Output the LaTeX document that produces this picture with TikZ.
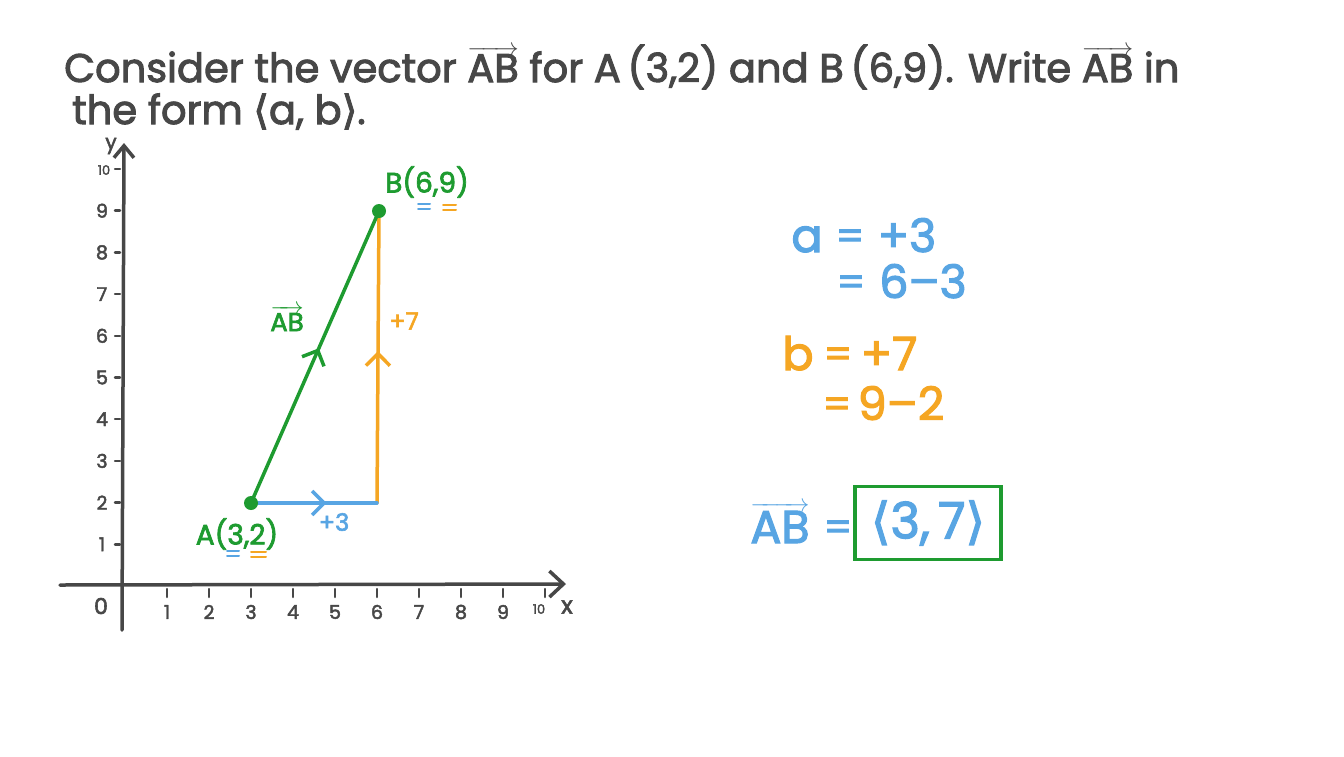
\documentclass[tikz,border=0pt]{standalone}
\usepackage{fontspec}
\setmainfont{Poppins}[FakeBold=2.5]
\newfontfamily\djv{DejaVu Sans}[FakeBold=2.5]
\usetikzlibrary{arrows.meta,decorations.markings}
\definecolor{ink}{HTML}{474747}
\definecolor{grn}{HTML}{1E9B30}
\definecolor{blu}{HTML}{58A5E3}
\definecolor{org}{HTML}{F5A623}
\newcommand\vAB{\ensuremath{\overrightarrow{\hbox{AB}}}}
\newcommand\fs[1]{\fontsize{#1}{#1}\selectfont}
\newcommand\lang{{\djv ⟨}}
\newcommand\rang{{\djv ⟩}}
\tikzset{
  axis/.style={draw=ink, line width=3.5pt, line cap=round},
  tickmark/.style={draw=ink, line width=2.5pt, line cap=round},
  vecline/.style={line width=3.5pt, line cap=round},
  midarrow/.style={postaction={decorate}, decoration={markings,
     mark=at position #1 with {\arrow{Straight Barb[length=12pt,width=24pt]}}}},
  ticklbl/.style={text=ink, inner sep=0pt, font=\fs{19}},
  eqmark/.style={line width=2pt, line cap=round},
  hand/.style={inner sep=0pt, anchor=base}
}
\begin{document}
\begin{tikzpicture}[x=1pt,y=-1pt]
\useasboundingbox[fill=white] (0,0) rectangle (1344,756);
% title
\node[hand, anchor=base west, text=ink, font=\fs{40}] (t1) at (64,82)
  {Consider the vector \vAB{} for A\,(3,2) and B\,(6,9). Write \vAB{} in};
\node[hand, anchor=base west, text=ink, font=\fs{40}] (t2) at (72,124)
  {the form \lang a, b\rang.};
% axes
\coordinate (xs) at (60,585);
\coordinate (xe) at (566,584);
\coordinate (ys) at (122,630);
\coordinate (ye) at (124,143);
\draw[axis, -{Straight Barb[length=14pt,width=26pt]}] (xs) -- (xe);
\draw[axis, -{Straight Barb[length=12pt,width=20pt]}] (ys) -- (ye);
\foreach \i in {1,...,9} {
  \draw[tickmark] ({125+42*\i},589) -- ++(0,8);
  \node[ticklbl] (xl\i) at ({125+42*\i},612) {\i};
}
\draw[tickmark] (545,589) -- ++(0,8);
\node[ticklbl, font=\fs{13}] (xl10) at (539,609) {10};
\node[ticklbl, font=\fs{24}] (xlab) at (567,607) {x};
\foreach \i in {1,...,9} {
  \draw[tickmark] (115,{586-41.7*\i}) -- (120,{586-41.7*\i});
  \node[ticklbl] (yl\i) at (102,{586-41.7*\i}) {\i};
}
\draw[tickmark] (115,169) -- (120,169);
\node[ticklbl, font=\fs{13}] (yl10) at (104,170) {10};
\node[ticklbl, font=\fs{20}] (ylab) at (111,146) {y};
\node[ticklbl, font=\fs{22}] (yl0) at (101,606) {0};
% vectors
\coordinate (A) at (251,503);
\coordinate (B) at (379,211);
\coordinate (C) at (377,503);
\draw[org, vecline, midarrow=0.52] (C) -- (B);
\draw[blu, vecline, midarrow=0.6] (A) -- (C);
\draw[grn, vecline, midarrow=0.53] (A) -- (B);
\fill[grn] (A) circle (7);
\fill[grn] (B) circle (7);
% labels
\node[text=grn, font=\fs{28}, inner sep=0pt] (Blab) at (427,182) {B(6,9)};
\node[text=grn, font=\fs{28}, inner sep=0pt] (Alab) at (237,534) {A(3,2)};
\node[text=blu, font=\fs{24}, inner sep=0pt] (p3) at (334,522) {+3};
\node[text=org, font=\fs{24}, inner sep=0pt] (p7) at (404,321) {+7};
\node[text=grn, font=\fs{26}, inner sep=0pt] (ABlab) at (287,318) {\vAB};
% underline marks
\draw[blu, eqmark] (418,204) -- (430,204) (418,209) -- (430,209);
\draw[org, eqmark] (443,205) -- (456,205) (443,210) -- (456,210);
\draw[blu, eqmark] (227,551) -- (239,551) (227,556) -- (239,556);
\draw[org, eqmark] (251,552) -- (266,552) (251,557) -- (266,557);
% equations
\node[hand, text=blu, font=\fs{46}] (ea1) at (807,252) {a};
\node[hand, text=blu, font=\fs{40}] (eq1) at (850,250) {=};
\node[hand, text=blu, font=\fs{46}] (ea2) at (907,252) {+3};
\node[hand, text=blu, font=\fs{40}] (eq2) at (851,296) {=};
\node[hand, text=blu, font=\fs{46}] (ea3) at (923,298) {6–3};
\node[hand, text=org, font=\fs{46}] (eb1) at (798,370) {b};
\node[hand, text=org, font=\fs{40}] (eq3) at (838,368) {=};
\node[hand, text=org, font=\fs{46}] (eb2) at (889,370) {+7};
\node[hand, text=org, font=\fs{40}] (eq4) at (837,418) {=};
\node[hand, text=org, font=\fs{46}] (eb3) at (901,420) {9–2};
% result
\node[hand, text=blu, font=\fs{46}] (rAB) at (780,543) {\vAB};
\node[hand, text=blu, font=\fs{40}] (req) at (838,541) {=};
\node[draw=grn, line width=3.5pt, minimum width=146pt, minimum height=73pt,
      text=blu, font=\fs{50}] (box) at (928,523) {\lang 3,\,7\rang};
\end{tikzpicture}
\end{document}
